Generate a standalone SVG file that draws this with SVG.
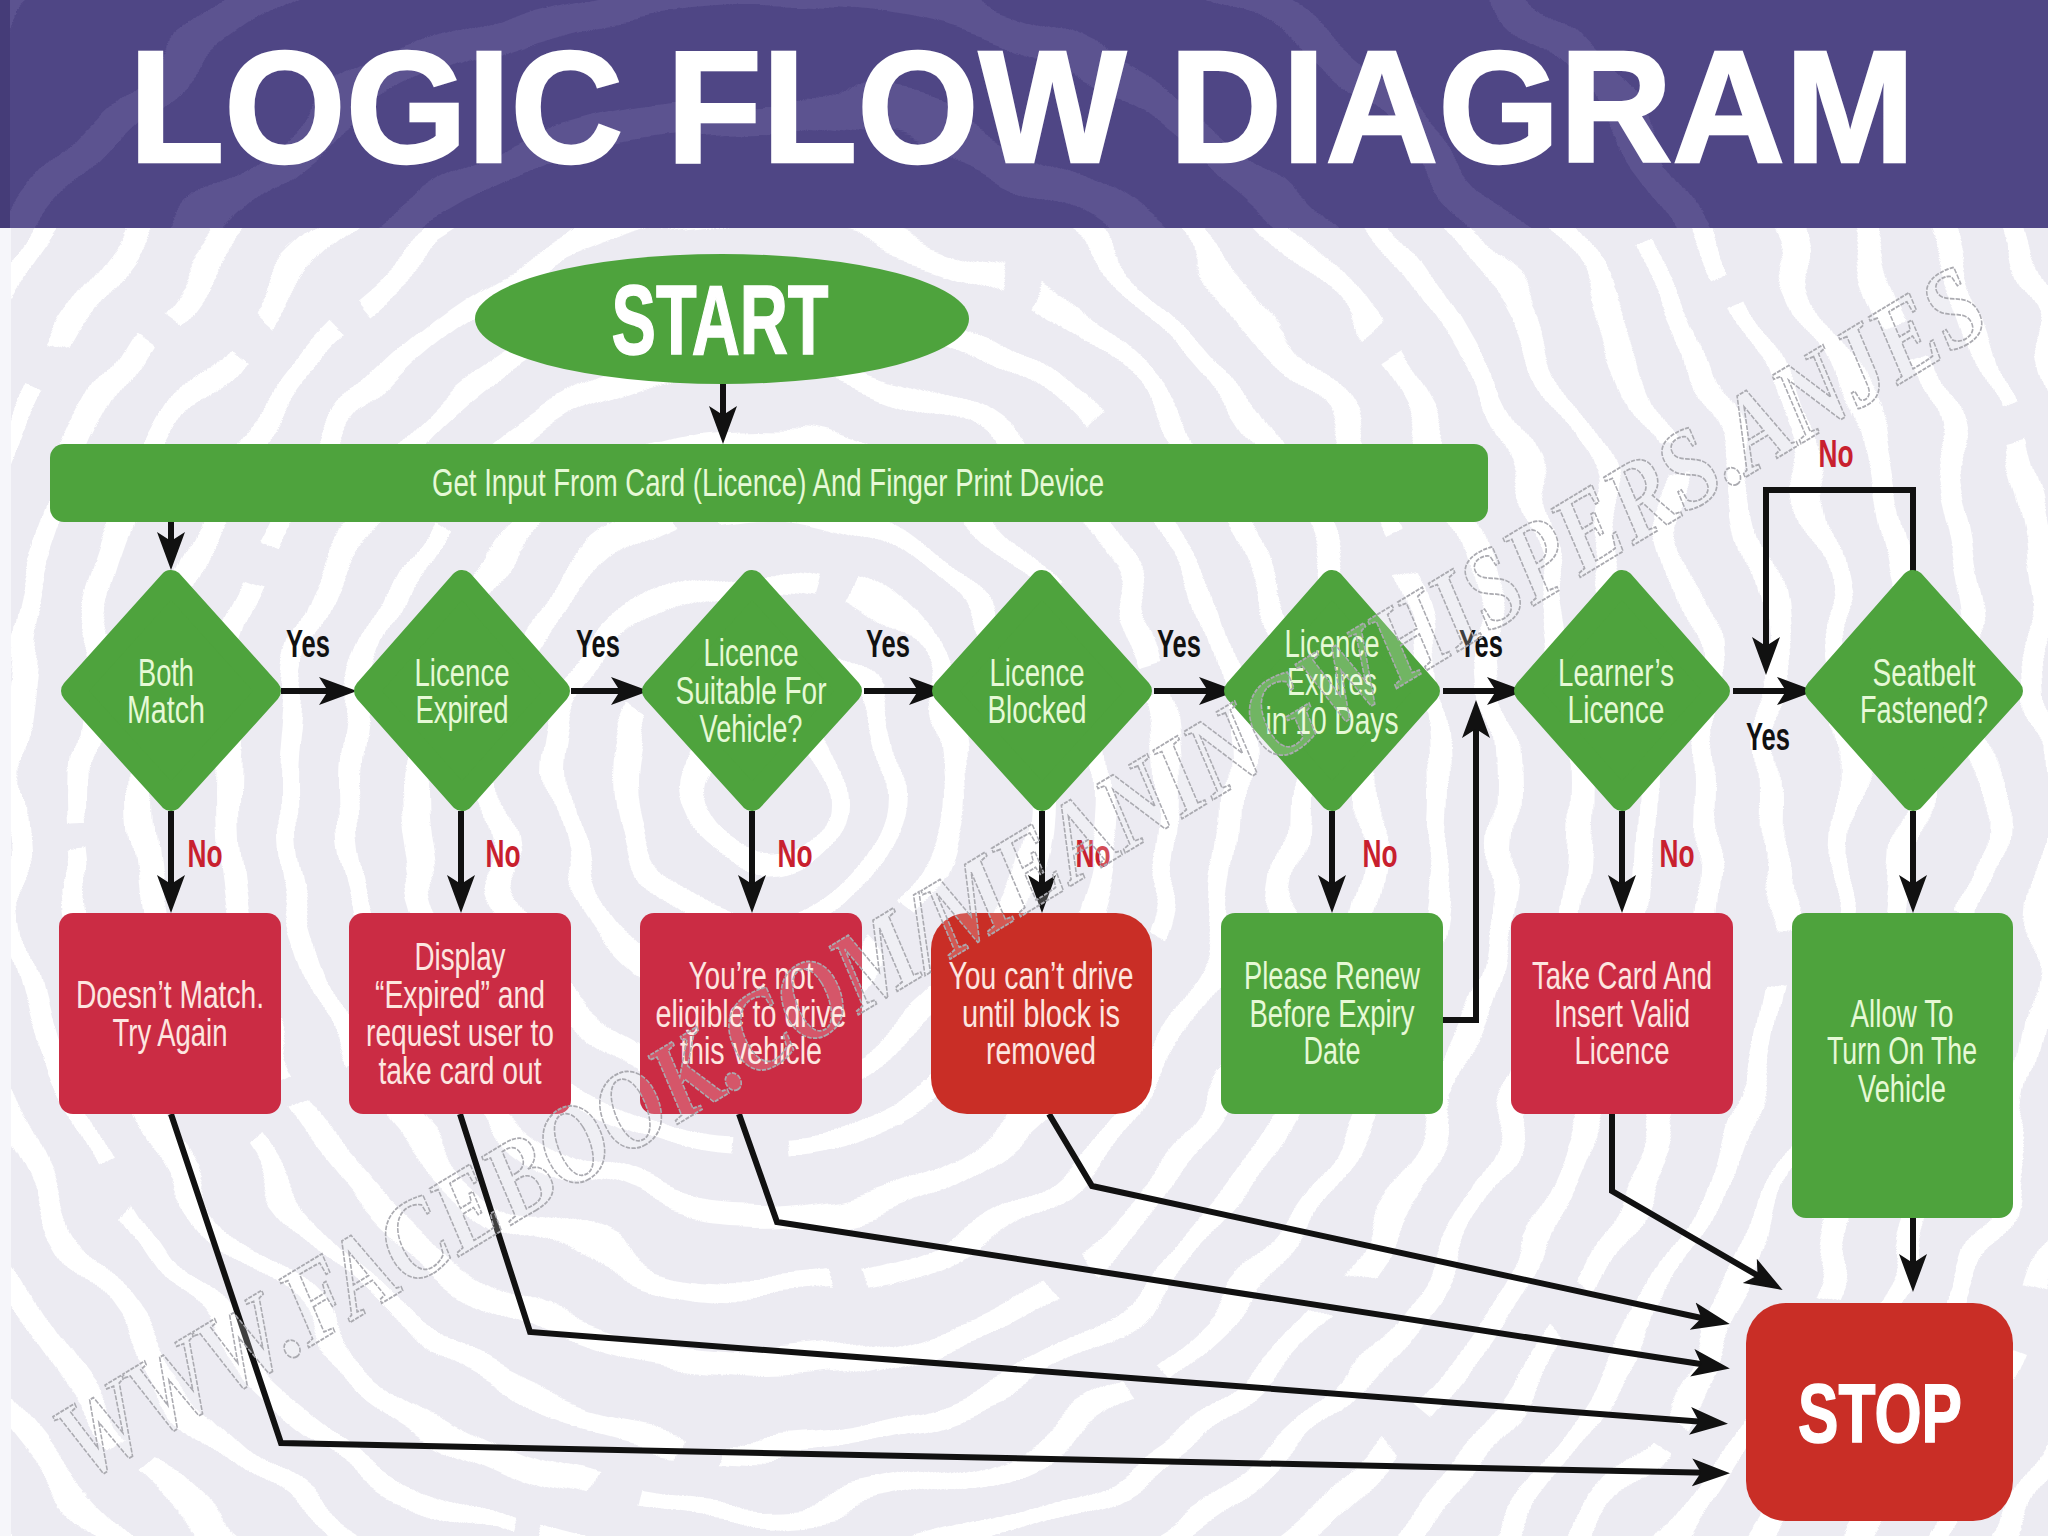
<svg xmlns="http://www.w3.org/2000/svg" width="2048" height="1536" viewBox="0 0 2048 1536">
<style>
text{font-family:"Liberation Sans",Arial,sans-serif;text-anchor:middle}
.g{fill:#4ea33d}.r{fill:#cb2c44}.rs{fill:#c92e26}
.gd{fill:#4ea33d;stroke:#4ea33d;stroke-width:24;stroke-linejoin:round}
.tg{fill:#e6f9d6;font-size:38px}.tr{fill:#fde6e0;font-size:38px}
.big{fill:#fff;font-weight:bold;stroke:#fff;stroke-width:1.5}
.y{fill:#111;font-size:38px;font-weight:bold}.n{fill:#c8202e;font-size:38px;font-weight:bold}
.ln{fill:none;stroke:#111;stroke-width:6;stroke-linejoin:miter}
.ar{marker-end:url(#arrow)}
.ridge{fill:none;stroke:#fff;stroke-width:22;stroke-dasharray:520 46 860 34}
.ridge:nth-child(3n){stroke-dashoffset:380}
.ridge:nth-child(3n+1){stroke-dashoffset:760}
.bridge{fill:none;stroke:#5c5390;stroke-width:34}
.wm{font-family:"Liberation Serif",serif;font-style:italic;font-weight:bold;font-size:112px;fill:#fff;fill-opacity:.2;stroke:#aaaab0;stroke-width:1.8;stroke-dasharray:5 1.5;text-anchor:start}
</style>
<defs>
<marker id="arrow" markerUnits="userSpaceOnUse" markerWidth="42" markerHeight="34" refX="28" refY="17" orient="auto">
<path d="M0,3 L38,17 L0,31 L9,17 Z" fill="#111"/>
</marker>
<filter id="wob" filterUnits="userSpaceOnUse" x="0" y="0" width="2048" height="1536">
<feTurbulence type="fractalNoise" baseFrequency="0.006 0.008" numOctaves="2" seed="7" result="n"/>
<feDisplacementMap in="SourceGraphic" in2="n" scale="70" xChannelSelector="R" yChannelSelector="G"/>
</filter>
<clipPath id="bc"><rect x="0" y="0" width="2048" height="228"/></clipPath>
</defs>

<g id="background">
<rect width="2048" height="1536" fill="#ecebf2"/>
<g filter="url(#wob)">
<ellipse class="ridge" cx="760" cy="790" rx="68" ry="72"/>
<ellipse class="ridge" cx="760" cy="790" rx="136" ry="144"/>
<ellipse class="ridge" cx="760" cy="790" rx="204" ry="216"/>
<ellipse class="ridge" cx="760" cy="790" rx="272" ry="288"/>
<ellipse class="ridge" cx="760" cy="790" rx="340" ry="360"/>
<ellipse class="ridge" cx="760" cy="790" rx="408" ry="432"/>
<ellipse class="ridge" cx="760" cy="790" rx="476" ry="504"/>
<ellipse class="ridge" cx="760" cy="790" rx="544" ry="576"/>
<ellipse class="ridge" cx="760" cy="790" rx="612" ry="648"/>
<ellipse class="ridge" cx="760" cy="790" rx="680" ry="720"/>
<ellipse class="ridge" cx="760" cy="790" rx="748" ry="792"/>
<ellipse class="ridge" cx="760" cy="790" rx="816" ry="864"/>
<ellipse class="ridge" cx="760" cy="790" rx="884" ry="936"/>
<ellipse class="ridge" cx="760" cy="790" rx="952" ry="1008"/>
<ellipse class="ridge" cx="760" cy="790" rx="1020" ry="1080"/>
<ellipse class="ridge" cx="760" cy="790" rx="1088" ry="1152"/>
<ellipse class="ridge" cx="760" cy="790" rx="1156" ry="1224"/>
<ellipse class="ridge" cx="760" cy="790" rx="1224" ry="1296"/>
<ellipse class="ridge" cx="760" cy="790" rx="1292" ry="1368"/>
<ellipse class="ridge" cx="760" cy="790" rx="1360" ry="1440"/>
<ellipse class="ridge" cx="760" cy="790" rx="1428" ry="1512"/>
</g>
<rect x="0" y="228" width="11" height="1308" fill="#f6f6fa"/>
</g>

<g id="banner">
<rect width="2048" height="228" fill="#4f4685"/>
<g clip-path="url(#bc)">
<g filter="url(#wob)">
<ellipse class="bridge" cx="760" cy="790" rx="640" ry="680"/>
<ellipse class="bridge" cx="760" cy="790" rx="780" ry="800"/>
<ellipse class="bridge" cx="760" cy="790" rx="930" ry="930"/>
<ellipse class="bridge" cx="760" cy="790" rx="1100" ry="1080"/>
</g>
</g>
<rect width="10" height="228" fill="#453c78"/>
<text class="big" x="1022" y="162" font-size="160" textLength="1786" lengthAdjust="spacingAndGlyphs" style="stroke-width:2.5">LOGIC FLOW DIAGRAM</text>
</g>

<g id="connectors">
<path class="ln ar" d="M723,384V434"/>
<path class="ln ar" d="M171,522V560"/>
<path class="ln ar" d="M281,691H347"/>
<path class="ln ar" d="M571,691H639"/>
<path class="ln ar" d="M864,691H937"/>
<path class="ln ar" d="M1154,691H1227"/>
<path class="ln ar" d="M1443,691H1515"/>
<path class="ln ar" d="M1733,691H1805"/>
<path class="ln ar" d="M171,811V903"/>
<path class="ln ar" d="M461,811V903"/>
<path class="ln ar" d="M752,811V903"/>
<path class="ln ar" d="M1042,811V903"/>
<path class="ln ar" d="M1332,811V903"/>
<path class="ln ar" d="M1622,811V903"/>
<path class="ln ar" d="M1913,811V903"/>
<path class="ln ar" d="M1443,1020H1476V710"/>
<path class="ln ar" d="M1913,575V490H1766V665"/>
<path class="ln ar" d="M1913,1218V1282"/>
<path class="ln ar" d="M1612,1114V1191L1774,1285"/>
<path class="ln ar" d="M1049,1114L1092,1186L1720,1322"/>
<path class="ln ar" d="M739,1114L777,1222L1720,1367"/>
<path class="ln ar" d="M460,1114L530,1332L1718,1423"/>
<path class="ln ar" d="M171,1114L281,1443L1720,1473"/>
</g>

<g id="start"><ellipse class="g" cx="722" cy="319" rx="247" ry="65"/>
<text class="big" x="720" y="354" font-size="98" textLength="217" lengthAdjust="spacingAndGlyphs">START</text></g>
<g id="input"><rect class="g" x="50" y="444" width="1438" height="78" rx="14"/>
<text class="tg" x="768" y="496" textLength="672" lengthAdjust="spacingAndGlyphs">Get Input From Card (Licence) And Finger Print Device</text></g>

<g id="d-match"><polygon class="gd" points="171,582 269,691 171,799 73,691"/>
<text class="tg" x="166" y="686" textLength="56" lengthAdjust="spacingAndGlyphs">Both</text>
<text class="tg" x="166" y="723" textLength="78" lengthAdjust="spacingAndGlyphs">Match</text></g>
<g id="d-expired"><polygon class="gd" points="462,582 558,691 462,799 366,691"/>
<text class="tg" x="462" y="686" textLength="95" lengthAdjust="spacingAndGlyphs">Licence</text>
<text class="tg" x="462" y="723" textLength="93" lengthAdjust="spacingAndGlyphs">Expired</text></g>
<g id="d-suitable"><polygon class="gd" points="752,582 850,691 752,799 654,691"/>
<text class="tg" x="751" y="666" textLength="95" lengthAdjust="spacingAndGlyphs">Licence</text>
<text class="tg" x="751" y="704" textLength="151" lengthAdjust="spacingAndGlyphs">Suitable For</text>
<text class="tg" x="751" y="742" textLength="103" lengthAdjust="spacingAndGlyphs">Vehicle?</text></g>
<g id="d-blocked"><polygon class="gd" points="1042,582 1140,691 1042,799 944,691"/>
<text class="tg" x="1037" y="686" textLength="95" lengthAdjust="spacingAndGlyphs">Licence</text>
<text class="tg" x="1037" y="723" textLength="99" lengthAdjust="spacingAndGlyphs">Blocked</text></g>
<g id="d-expires"><polygon class="gd" points="1332,582 1428,691 1332,799 1236,691"/>
<text class="tg" x="1332" y="657" textLength="95" lengthAdjust="spacingAndGlyphs">Licence</text>
<text class="tg" x="1332" y="695" textLength="90" lengthAdjust="spacingAndGlyphs">Expires</text>
<text class="tg" x="1332" y="734" textLength="133" lengthAdjust="spacingAndGlyphs">in 10 Days</text></g>
<g id="d-learner"><polygon class="gd" points="1622,582 1718,691 1622,799 1526,691"/>
<text class="tg" x="1616" y="686" textLength="116" lengthAdjust="spacingAndGlyphs">Learner’s</text>
<text class="tg" x="1616" y="723" textLength="97" lengthAdjust="spacingAndGlyphs">Licence</text></g>
<g id="d-seatbelt"><polygon class="gd" points="1913,582 2011,691 1913,799 1817,691"/>
<text class="tg" x="1924" y="686" textLength="103" lengthAdjust="spacingAndGlyphs">Seatbelt</text>
<text class="tg" x="1924" y="723" textLength="128" lengthAdjust="spacingAndGlyphs">Fastened?</text></g>

<g id="b-nomatch"><rect class="r" x="59" y="913" width="222" height="201" rx="14"/>
<text class="tr" x="170" y="1008" textLength="188" lengthAdjust="spacingAndGlyphs">Doesn’t Match.</text>
<text class="tr" x="170" y="1046" textLength="115" lengthAdjust="spacingAndGlyphs">Try Again</text></g>
<g id="b-expired"><rect class="r" x="349" y="913" width="222" height="201" rx="14"/>
<text class="tr" x="460" y="970" textLength="91" lengthAdjust="spacingAndGlyphs">Display</text>
<text class="tr" x="460" y="1008" textLength="170" lengthAdjust="spacingAndGlyphs">“Expired” and</text>
<text class="tr" x="460" y="1046" textLength="188" lengthAdjust="spacingAndGlyphs">request user to</text>
<text class="tr" x="460" y="1084" textLength="163" lengthAdjust="spacingAndGlyphs">take card out</text></g>
<g id="b-noteligible"><rect class="r" x="640" y="913" width="222" height="201" rx="14"/>
<text class="tr" x="751" y="989" textLength="125" lengthAdjust="spacingAndGlyphs">You’re not</text>
<text class="tr" x="751" y="1027" textLength="191" lengthAdjust="spacingAndGlyphs">eligible to drive</text>
<text class="tr" x="751" y="1064" textLength="142" lengthAdjust="spacingAndGlyphs">this vehicle</text></g>
<g id="b-blocked"><rect class="rs" x="931" y="913" width="221" height="201" rx="36"/>
<text class="tr" x="1041" y="989" textLength="185" lengthAdjust="spacingAndGlyphs">You can’t drive</text>
<text class="tr" x="1041" y="1027" textLength="158" lengthAdjust="spacingAndGlyphs">until block is</text>
<text class="tr" x="1041" y="1064" textLength="110" lengthAdjust="spacingAndGlyphs">removed</text></g>
<g id="b-renew"><rect class="g" x="1221" y="913" width="222" height="201" rx="14"/>
<text class="tg" x="1332" y="989" textLength="176" lengthAdjust="spacingAndGlyphs">Please Renew</text>
<text class="tg" x="1332" y="1027" textLength="165" lengthAdjust="spacingAndGlyphs">Before Expiry</text>
<text class="tg" x="1332" y="1064" textLength="57" lengthAdjust="spacingAndGlyphs">Date</text></g>
<g id="b-valid"><rect class="r" x="1511" y="913" width="222" height="201" rx="14"/>
<text class="tr" x="1622" y="989" textLength="180" lengthAdjust="spacingAndGlyphs">Take Card And</text>
<text class="tr" x="1622" y="1027" textLength="136" lengthAdjust="spacingAndGlyphs">Insert Valid</text>
<text class="tr" x="1622" y="1064" textLength="95" lengthAdjust="spacingAndGlyphs">Licence</text></g>
<g id="b-allow"><rect class="g" x="1792" y="913" width="221" height="305" rx="14"/>
<text class="tg" x="1902" y="1027" textLength="103" lengthAdjust="spacingAndGlyphs">Allow To</text>
<text class="tg" x="1902" y="1064" textLength="150" lengthAdjust="spacingAndGlyphs">Turn On The</text>
<text class="tg" x="1902" y="1102" textLength="88" lengthAdjust="spacingAndGlyphs">Vehicle</text></g>
<g id="stop"><rect class="rs" x="1746" y="1303" width="267" height="218" rx="40"/>
<text class="big" x="1880" y="1442" font-size="84" textLength="164" lengthAdjust="spacingAndGlyphs">STOP</text></g>

<g id="edge-labels">
<text class="y" x="308" y="657" textLength="44" lengthAdjust="spacingAndGlyphs">Yes</text>
<text class="y" x="598" y="657" textLength="44" lengthAdjust="spacingAndGlyphs">Yes</text>
<text class="y" x="888" y="657" textLength="44" lengthAdjust="spacingAndGlyphs">Yes</text>
<text class="y" x="1179" y="657" textLength="44" lengthAdjust="spacingAndGlyphs">Yes</text>
<text class="y" x="1481" y="657" textLength="44" lengthAdjust="spacingAndGlyphs">Yes</text>
<text class="y" x="1768" y="750" textLength="44" lengthAdjust="spacingAndGlyphs">Yes</text>
<text class="n" x="205" y="867" textLength="35" lengthAdjust="spacingAndGlyphs">No</text>
<text class="n" x="503" y="867" textLength="35" lengthAdjust="spacingAndGlyphs">No</text>
<text class="n" x="795" y="867" textLength="35" lengthAdjust="spacingAndGlyphs">No</text>
<text class="n" x="1093" y="867" textLength="35" lengthAdjust="spacingAndGlyphs">No</text>
<text class="n" x="1380" y="867" textLength="35" lengthAdjust="spacingAndGlyphs">No</text>
<text class="n" x="1677" y="867" textLength="35" lengthAdjust="spacingAndGlyphs">No</text>
<text class="n" x="1836" y="467" textLength="35" lengthAdjust="spacingAndGlyphs">No</text>
</g>

<g id="watermark">
<text class="wm" transform="translate(85 1483) rotate(-31.2)" textLength="2232" lengthAdjust="spacingAndGlyphs">WWW.FACEBOOK.COM/MEANINGWHISPERS.ANJES</text>
</g>
</svg>
